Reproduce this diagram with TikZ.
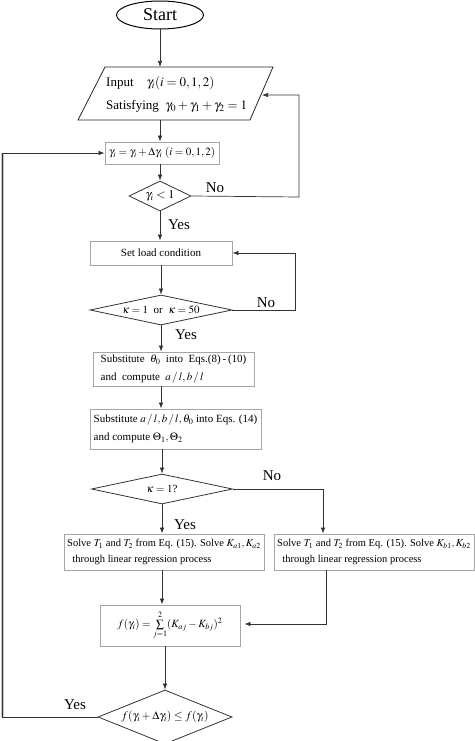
\documentclass[tikz,border=0pt]{standalone}
\usepackage{mathptmx}
\usepackage[no-math]{fontspec}
\setmainfont{Liberation Serif}
\usetikzlibrary{shapes.geometric,arrows.meta}
\begin{document}
\begin{tikzpicture}[x=1pt,y=-1pt,
  box/.style={draw=gray!70, line width=0.9pt, rectangle, inner sep=0pt, align=left},
  dia/.style={draw=black!80, line width=0.8pt, diamond, inner sep=0pt},
  conn/.style={draw=black!80, line width=0.7pt},
  arr/.style={conn, -{Latex[length=6pt,width=4.5pt]}},
  lbl/.style={font=\fontsize{15}{17}\selectfont, inner sep=0pt},
  txt/.style={font=\fontsize{11}{13}\selectfont}
]
\useasboundingbox (0,0) rectangle (474,741);
% nodes
\node[draw=black, line width=1pt, ellipse, minimum width=87pt, minimum height=28pt, inner sep=0pt,
      font=\fontsize{18}{20}\selectfont] (start) at (160,15) {Start};
\coordinate (inTL) at (105,67);
\coordinate (inTR) at (273,67);
\coordinate (inBR) at (250,120);
\coordinate (inBL) at (78,120);
\draw[black!85, line width=0.8pt] (inTL) -- (inTR) -- (inBR) -- (inBL) -- cycle;
\node[anchor=west, align=left, inner sep=0pt, font=\fontsize{13}{23}\selectfont] (input) at (106,94.5)
  {Input\quad $\gamma_i(i=0,1,2)$\\Satisfying\ \ $\gamma_0+\gamma_1+\gamma_2=1$};
\coordinate (inTop) at (160,67);
\coordinate (inBot) at (160,120);
\coordinate (inRight) at (262,95);

\node[box, minimum width=114pt, minimum height=22pt, font=\fontsize{11}{13}\selectfont] (upd) at (162,153)
  {$\gamma_i=\gamma_i+\Delta\gamma_i\ (i=0,1,2)$};
\node[dia, minimum width=62pt, minimum height=30pt, shape aspect=2, font=\fontsize{12}{14}\selectfont] (d1) at (160,196)
  {$\gamma_i<1$};
\node[box, minimum width=142pt, minimum height=24pt, txt] (load) at (161,253) {Set load condition};
\node[dia, minimum width=142pt, minimum height=30pt, shape aspect=4.7, txt] (d2) at (161,310)
  {$\kappa=1$\ \ or\ \ $\kappa=50$};
\node[box, minimum width=161pt, minimum height=34pt, txt, font=\fontsize{11}{18}\selectfont] (sub1) at (173.5,369)
  {Substitute\ \ $\theta_0$\ \ into\ \ Eqs.(8)\,-\,(10)\\and\ \ compute\ \ $a\,/\,l,b\,/\,l$};
\node[box, minimum width=171pt, minimum height=40pt, txt, font=\fontsize{11}{18}\selectfont] (sub2) at (175.5,429)
  {Substitute $a\,/\,l,b\,/\,l,\theta_0$ into Eqs. (14)\\and compute $\Theta_1,\Theta_2$};
\node[dia, minimum width=141pt, minimum height=30pt, shape aspect=4.7, txt] (d3) at (162,489) {$\kappa=1$?};
\node[box, minimum width=200pt, minimum height=36pt, font=\fontsize{10.5}{16}\selectfont] (solA) at (164,552)
  {Solve $T_1$ and $T_2$ from Eq. (15). Solve $K_{a1},K_{a2}$\\\ \ through linear regression process};
\node[box, minimum width=200pt, minimum height=36pt, font=\fontsize{10.5}{16}\selectfont] (solB) at (374,552)
  {Solve $T_1$ and $T_2$ from Eq. (15). Solve $K_{b1},K_{b2}$\\\ \ through linear regression process};
\node[box, minimum width=140pt, minimum height=41pt, font=\fontsize{11}{13}\selectfont] (obj) at (170,625.5)
  {$f(\gamma_i)=\sum\limits_{j=1}^{2}(K_{aj}-K_{bj})^2$};
\node[dia, minimum width=134pt, minimum height=54pt, shape aspect=2.5, font=\fontsize{11.5}{13}\selectfont] (d4) at (165,717)
  {$f(\gamma_i+\Delta\gamma_i)\le f(\gamma_i)$};

% connectors
\draw[arr] (start) -- (inTop);
\draw[arr] (inBot) -- (upd.north -| inBot);
\draw[arr] (upd.south -| d1.north) -- (d1.north);
\coordinate (n1a) at (299,197);
\draw[arr] (d1.east) -- (n1a) -- (n1a |- inRight) -- (inRight);
\node[lbl] at (215,188) {No};
\draw[arr] (d1.south) -- (load.north -| d1.south);
\node[lbl] at (179,225) {Yes};
\draw[arr] (load.south -| d2.north) -- (d2.north);
\coordinate (n2a) at (295,310);
\draw[arr] (d2.east) -- (n2a) -- (n2a |- load.east) -- (load.east);
\node[lbl] at (266,303) {No};
\draw[arr] (d2.south) -- (sub1.north -| d2.south);
\node[lbl] at (186,335) {Yes};
\draw[arr] (sub1.south -| d2.south) -- (sub2.north -| d2.south);
\draw[arr] (sub2.south -| d3.north) -- (d3.north);
\coordinate (n3a) at (323,489);
\draw[arr] (d3.east) -- (n3a) -- (n3a |- solB.north);
\node[lbl] at (272,476) {No};
\draw[arr] (d3.south) -- (solA.north -| d3.south);
\node[lbl] at (185,525) {Yes};
\draw[arr] (solA.south -| d3.south) -- (obj.north -| d3.south);
\coordinate (n4a) at (326,570);
\coordinate (n4b) at (326,624);
\draw[arr, shorten >=4pt] (n4a) -- (n4b) -- (n4b -| obj.east);
\draw[arr] (obj.south -| d4.north) -- (d4.north);
\coordinate (n5a) at (2,717);
\coordinate (n5b) at (2,153);
\draw[gray!45, line width=3pt] (n5a) -- (n5b);
\draw[arr] (d4.west) -- (n5a) -- (n5b) -- (upd.west);
\node[lbl] at (75,705) {Yes};
\end{tikzpicture}
\end{document}
